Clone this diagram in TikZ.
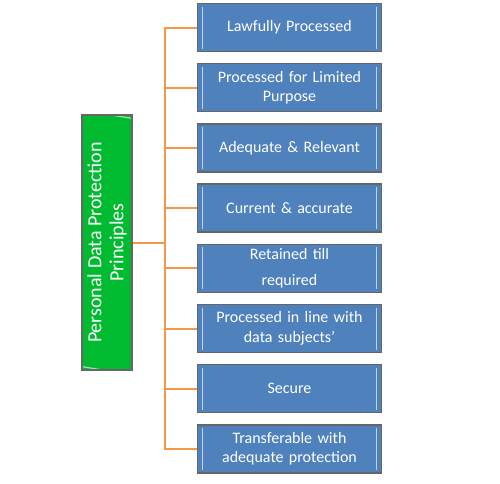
\documentclass[tikz,border=0pt]{standalone}
\usepackage{fontspec}
\setmainfont{Carlito}
\usepackage{tikz}
\definecolor{boxblue}{RGB}{79,129,189}
\definecolor{boxgreen}{RGB}{0,187,48}
\definecolor{lineorange}{RGB}{247,150,70}
\tikzstyle{prbox}=[draw=black!60,line width=1.5pt,fill=boxblue,text=white,text width=176pt,align=center,minimum width=184pt,minimum height=48pt,font=\fontsize{16}{19.5}\selectfont,inner sep=1pt,
  path picture={\draw[white!65!boxblue,line width=1.2pt] ([xshift=5pt,yshift=-3pt]path picture bounding box.north west) -- ([xshift=5pt,yshift=3pt]path picture bounding box.south west);
                \draw[white!65!boxblue,line width=1.2pt] ([xshift=-5pt,yshift=-3pt]path picture bounding box.north east) -- ([xshift=-5pt,yshift=3pt]path picture bounding box.south east);}]

\begin{document}
\begin{tikzpicture}[x=1pt,y=-1pt,node distance = 60.2pt]

\tikzstyle{mainbox}=[draw=black!60,line width=1.5pt,fill=boxgreen,text=white,rotate=90,align=center,minimum width=255pt,minimum height=50pt,font=\fontsize{20}{22}\selectfont,inner sep=1pt,
  path picture={\draw[white!60!boxgreen,line width=1.2pt] ([xshift=-4pt,yshift=4pt]path picture bounding box.south east) -- ([xshift=4pt,yshift=4pt]path picture bounding box.south west);
                \draw[white!60!boxgreen,line width=1.2pt] ([xshift=-4pt,yshift=-4pt]path picture bounding box.north east) -- ([xshift=4pt,yshift=-4pt]path picture bounding box.north west);}]
\tikzstyle{conn}=[lineorange,line width=2pt]

\useasboundingbox (0,0) rectangle (500,483);

\node (main) [mainbox] at (107,242.5) {Personal Data Protection\\Principles};

\node (P1) [prbox] at (289.5,27.5) {Lawfully Processed};
\node (P2) [prbox, below of = P1]  {Processed for Limited\\Purpose};
\node (P3) [prbox, below of = P2]  {Adequate \& Relevant};
\node (P4) [prbox, below of = P3]  {Current \& accurate};
\node (P5) [prbox, below of = P4]  {Retained till\\[7pt]required};
\node (P6) [prbox, below of = P5]  {Processed in line with\\data subjects’};
\node (P7) [prbox, below of = P6]  {Secure};
\node (P8) [prbox, below of = P7]  {Transferable with\\adequate protection};

\coordinate (trunk) at (165,0);

\draw [conn] (main.south) -- (main.south -| trunk);
\draw [conn] (P1.west) -- (P1.west -| trunk) -- (P8.west -| trunk) -- (P8.west);
\draw [conn] (P2.west) -- (P2.west -| trunk);
\draw [conn] (P3.west) -- (P3.west -| trunk);
\draw [conn] (P4.west) -- (P4.west -| trunk);
\draw [conn] (P5.west) -- (P5.west -| trunk);
\draw [conn] (P6.west) -- (P6.west -| trunk);
\draw [conn] (P7.west) -- (P7.west -| trunk);

\end{tikzpicture}
\end{document}
